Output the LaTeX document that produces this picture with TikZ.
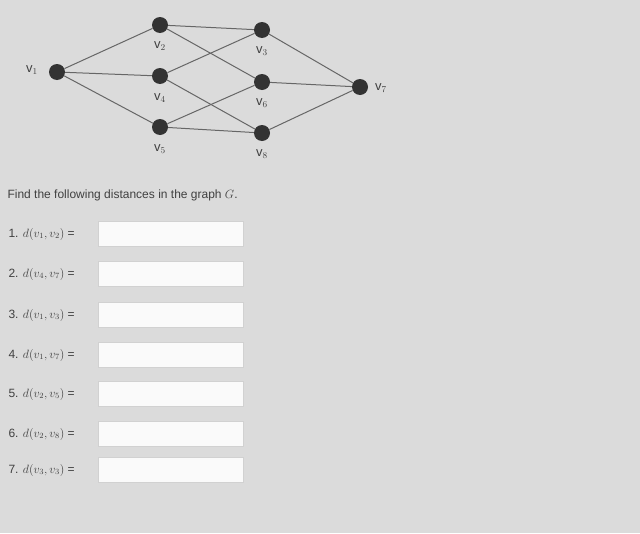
\documentclass[tikz,border=0pt]{standalone}
\usepackage{fontspec}
\setmainfont{Liberation Sans}
\begin{document}
\begin{tikzpicture}[x=1pt,y=-1pt,
  vtx/.style={circle,fill=black!80,inner sep=0pt,minimum size=16pt},
  edge/.style={draw=black!60,line width=1pt},
  lab/.style={font=\fontsize{13}{15}\selectfont,text=black!75},
  qtext/.style={font=\fontsize{12}{14}\selectfont,text=black!75,anchor=west},
  ansbox/.style={draw=black!18,fill=white!70!black!6,minimum width=145pt,minimum height=25pt,anchor=west}]
\useasboundingbox[fill=black!14] (0,0) rectangle (640,533);
\node[vtx] (v1) at (57,72) {};
\node[vtx] (v2) at (160,25) {};
\node[vtx] (v3) at (262,30) {};
\node[vtx] (v4) at (160,76) {};
\node[vtx] (v6) at (262,82) {};
\node[vtx] (v5) at (160,127) {};
\node[vtx] (v8) at (262,133) {};
\node[vtx] (v7) at (360,87) {};
\foreach \a/\b in {v1/v2,v1/v4,v1/v5,v2/v3,v2/v6,v4/v3,v4/v8,v5/v6,v5/v8,v3/v7,v6/v7,v8/v7}
  \draw[edge] (\a) -- (\b);
\node[lab] (l1) at (32,70) {v$_1$};
\node[lab] (l2) at (160,46) {v$_2$};
\node[lab] (l3) at (262,51) {v$_3$};
\node[lab] (l4) at (160,98) {v$_4$};
\node[lab] (l6) at (262,103) {v$_6$};
\node[lab] (l5) at (160,149) {v$_5$};
\node[lab] (l8) at (262,154) {v$_8$};
\node[lab] (l7) at (381,88) {v$_7$};
\node[qtext] (t) at (4,195) {Find the following distances in the graph $G$.};
\foreach \i/\y/\p/\q in {1/234/1/2,2/274/4/7,3/315/1/3,4/355/1/7,5/394/2/5,6/434/2/8,7/470/3/3}{
  \node[qtext] (q\i) at (5,\y) {\i. $d(v_\p,v_\q)$ =};
  \node[ansbox] (b\i) at (98,\y) {};
}
\end{tikzpicture}
\end{document}
